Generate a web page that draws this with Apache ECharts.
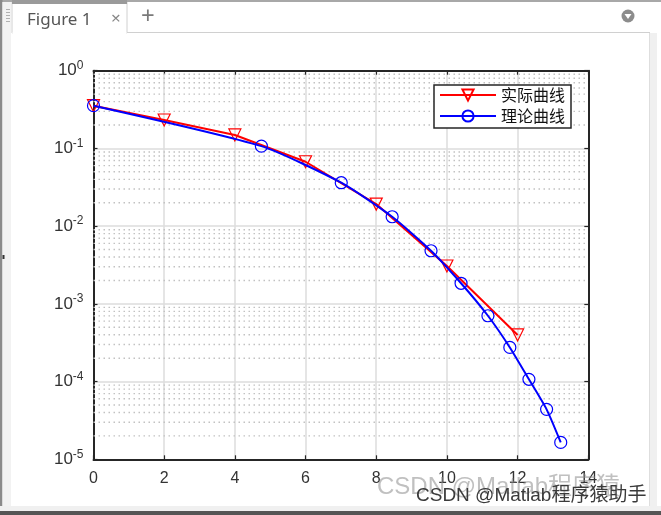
<!DOCTYPE html>
<html>
<head>
<meta charset="utf-8">
<script src="https://cdn.jsdelivr.net/npm/echarts@6/dist/echarts.min.js"></script>
<style>html,body{margin:0;padding:0;background:#fff;}#c{width:661px;height:515px;}</style>
</head>
<body>
<div id="c"></div>
<script>
// ---- data ----
const xActual = [0, 2, 4, 6, 8, 10, 12];
const yActual = [0.355, 0.232, 0.149, 0.0674, 0.0192, 0.00307, 0.000398];
const xTheory = [0, 4.75, 7.01, 8.45, 9.55, 10.40, 11.16, 11.78, 12.32, 12.82, 13.22];
const yTheory = [0.355, 0.107, 0.0362, 0.0132, 0.00482, 0.00184, 0.000703, 0.000275, 0.000107, 0.0000439, 0.0000165];
const seriesNames = ['实际曲线', '理论曲线'];
const xTicks = [0, 2, 4, 6, 8, 10, 12, 14];
const yDecades = [1e-5, 1e-4, 1e-3, 1e-2, 1e-1, 1];
const minorMantissas = [2, 3, 4, 5, 6, 7, 8, 9];

const minorValues = [];
yDecades.slice(0, -1).forEach(d => minorMantissas.forEach(m => minorValues.push(m * d)));

const axisColor = '#262626';
const textColor = '#333333';
const numFont = '"Liberation Sans", Arial, sans-serif';
const cjkFont = '"Noto Sans CJK SC", "Noto Sans", sans-serif';
const xMin = xTicks[0], xMax = xTicks[xTicks.length - 1];

const chart = echarts.init(document.getElementById('c'), null, {renderer: 'canvas'});

const minorSeries = minorValues.map(v => ({
  type: 'line', silent: true, symbol: 'none',
  xAxisIndex: 0, yAxisIndex: 0,
  data: [[xMin, v], [xMax, v]],
  lineStyle: {color: '#c2c2c2', width: 1.4, type: [1.5, 3.5]},
  emphasis: {disabled: true},
  tooltip: {show: false},
  z: 1
}));

const option = {
  animation: false,
  backgroundColor: '#ffffff',
  grid: {left: 93.5, right: 72.7, top: 70.7, bottom: 55.7, show: false},
  legend: {
    orient: 'vertical',
    left: 434, top: 85,
    data: seriesNames,
    itemWidth: 56, itemHeight: 14, itemGap: 5,
    padding: [2, 6, 4, 5],
    backgroundColor: '#ffffff',
    borderColor: axisColor, borderWidth: 1.5,
    textStyle: {fontSize: 16, color: '#111', fontFamily: cjkFont},
    selectedMode: false
  },
  xAxis: [{
    type: 'value', min: xMin, max: xMax, interval: 2,
    position: 'bottom',
    axisLine: {show: true, onZero: false, lineStyle: {color: axisColor, width: 2}},
    axisTick: {show: true, inside: true, length: 4, lineStyle: {color: axisColor, width: 1.2}},
    axisLabel: {margin: 11, fontSize: 16, color: textColor, fontFamily: numFont},
    splitLine: {show: true, lineStyle: {color: '#dcdcdc', width: 1.5}}
  }, {
    type: 'value', min: xMin, max: xMax, interval: 2,
    position: 'top',
    axisLine: {show: true, onZero: false, lineStyle: {color: axisColor, width: 2}},
    axisTick: {show: true, inside: true, length: 4, lineStyle: {color: axisColor, width: 1.2}},
    axisLabel: {show: false},
    splitLine: {show: false}
  }],
  yAxis: [{
    type: 'log', logBase: 10, min: yDecades[0], max: yDecades[yDecades.length - 1],
    position: 'left',
    axisLine: {show: true, onZero: false, lineStyle: {color: axisColor, width: 2}},
    axisTick: {show: true, inside: true, length: 4, lineStyle: {color: axisColor, width: 1.2}},
    axisLabel: {
      margin: 10, color: textColor,
      formatter: v => '{b|10}{s|' + Math.round(Math.log10(v)) + '}',
      rich: {
        b: {fontSize: 17, fontFamily: numFont, color: textColor},
        s: {fontSize: 12, fontFamily: numFont, color: textColor, padding: [0, 0, 10, 0]}
      }
    },
    splitLine: {show: true, lineStyle: {color: '#dcdcdc', width: 1.5}}
  }, {
    type: 'log', logBase: 10, min: yDecades[0], max: yDecades[yDecades.length - 1],
    position: 'right',
    axisLine: {show: true, onZero: false, lineStyle: {color: axisColor, width: 2}},
    axisTick: {show: true, inside: true, length: 4, lineStyle: {color: axisColor, width: 1.2}},
    axisLabel: {show: false},
    splitLine: {show: false}
  }],
  series: minorSeries.concat([{
    name: seriesNames[0],
    type: 'line',
    data: xActual.map((x, i) => [x, yActual[i]]),
    symbol: 'triangle', symbolRotate: 180, symbolSize: 12,
    lineStyle: {color: '#ff0000', width: 2},
    itemStyle: {color: 'rgba(255,255,255,0)', borderColor: '#ff0000', borderWidth: 1.2},
    z: 3
  }, {
    name: seriesNames[1],
    type: 'line',
    data: xTheory.map((x, i) => [x, yTheory[i]]),
    smooth: 0.2,
    symbol: 'circle', symbolSize: 12,
    lineStyle: {color: '#0000ff', width: 2},
    itemStyle: {color: 'rgba(255,255,255,0)', borderColor: '#0000ff', borderWidth: 1.2},
    z: 4
  }]),
  graphic: [
    // window frame
    {type: 'rect', shape: {x: 0, y: 0, width: 661, height: 2}, style: {fill: '#a8a8a8'}, silent: true},
    {type: 'rect', shape: {x: 0, y: 0, width: 2.5, height: 515}, style: {fill: '#8a8a8a'}, silent: true},
    {type: 'rect', shape: {x: 2.5, y: 2, width: 8.5, height: 513}, style: {fill: '#f2f2f2'}, silent: true},
    {type: 'rect', shape: {x: 2.5, y: 255, width: 2, height: 4}, style: {fill: '#333'}, silent: true},
    {type: 'rect', shape: {x: 650, y: 33, width: 7, height: 482}, style: {fill: '#f0f0f0'}, silent: true},
    {type: 'rect', shape: {x: 649, y: 33, width: 1, height: 482}, style: {fill: '#dedede'}, silent: true},
    {type: 'rect', shape: {x: 0, y: 506, width: 661, height: 5}, style: {fill: '#f0f0f0'}, silent: true},
    {type: 'rect', shape: {x: 0, y: 511, width: 661, height: 4}, style: {fill: '#555555'}, silent: true},
    // tab bar
    {type: 'rect', shape: {x: 127, y: 32, width: 523, height: 1}, style: {fill: '#d0d0d0'}, silent: true},
    {type: 'rect', shape: {x: 12, y: 2, width: 115, height: 31}, style: {fill: '#ffffff', stroke: '#d0d0d0', lineWidth: 1}, silent: true},
    {type: 'rect', shape: {x: 12, y: 0, width: 115, height: 4}, style: {fill: '#9a9a9a'}, silent: true},
    {type: 'rect', shape: {x: 12.5, y: 32, width: 114, height: 2}, style: {fill: '#ffffff'}, silent: true},
    {type: 'rect', shape: {x: 6, y: 9, width: 4, height: 1}, style: {fill: '#b0b0b0'}, silent: true},
    {type: 'rect', shape: {x: 6, y: 12, width: 4, height: 1}, style: {fill: '#b0b0b0'}, silent: true},
    {type: 'rect', shape: {x: 6, y: 15, width: 4, height: 1}, style: {fill: '#b0b0b0'}, silent: true},
    {type: 'rect', shape: {x: 6, y: 18, width: 4, height: 1}, style: {fill: '#b0b0b0'}, silent: true},
    {type: 'rect', shape: {x: 6, y: 21, width: 4, height: 1}, style: {fill: '#b0b0b0'}, silent: true},
    {type: 'text', x: 27, y: 20, style: {text: 'Figure 1', font: '17px "Noto Sans", "Open Sans", sans-serif', fill: '#555555', verticalAlign: 'middle'}, silent: true},
    {type: 'text', x: 111, y: 19, style: {text: '×', font: '17px "Noto Sans", sans-serif', fill: '#888888', verticalAlign: 'middle'}, silent: true},
    {type: 'text', x: 141, y: 17, style: {text: '+', font: '24px "Noto Sans", sans-serif', fill: '#7a7a7a', verticalAlign: 'middle'}, silent: true},
    {type: 'circle', shape: {cx: 628, cy: 16, r: 6.5}, style: {fill: '#8c8c8c'}, silent: true},
    {type: 'polygon', shape: {points: [[624.5, 14], [631.5, 14], [628, 19]]}, style: {fill: '#ffffff'}, silent: true},
    // watermarks
    {type: 'text', x: 377, y: 487, z: 100, style: {text: 'CSDN @Matlab程序猿', font: '24px "Liberation Sans", "Noto Sans CJK SC", sans-serif', fill: 'rgba(140,140,140,0.55)', verticalAlign: 'middle'}, silent: true},
    {type: 'text', x: 416, y: 496, z: 101, style: {text: 'CSDN @Matlab程序猿助手', font: '19px "Liberation Sans", "Noto Sans CJK SC", sans-serif', fill: '#3a3a3a', verticalAlign: 'middle'}, silent: true}
  ]
};
chart.setOption(option);
</script>
</body>
</html>
